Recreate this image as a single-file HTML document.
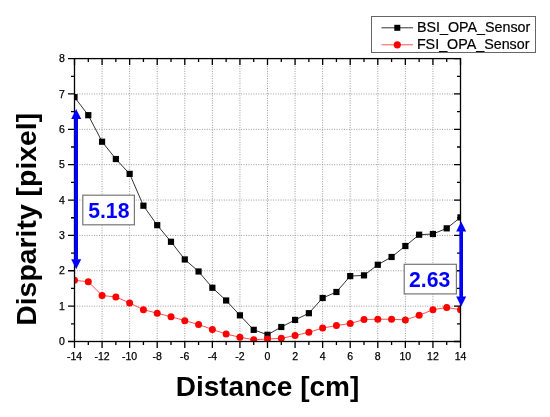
<!DOCTYPE html><html><head><meta charset="utf-8"><title>Disparity vs Distance</title><style>html,body{margin:0;padding:0;background:#fff;width:550px;height:417px;overflow:hidden}svg{display:block}</style></head><body><svg width="550" height="417" viewBox="0 0 550 417"><defs><clipPath id="clip"><rect x="74.5" y="58.6" width="386" height="282.9"/></clipPath></defs><rect width="550" height="417" fill="#fff"/><g stroke="#9a9a9a" stroke-width="1" stroke-dasharray="1 1.45" fill="none"><line x1="102.07" y1="58.6" x2="102.07" y2="341.5"/><line x1="129.64" y1="58.6" x2="129.64" y2="341.5"/><line x1="157.21" y1="58.6" x2="157.21" y2="341.5"/><line x1="184.79" y1="58.6" x2="184.79" y2="341.5"/><line x1="212.36" y1="58.6" x2="212.36" y2="341.5"/><line x1="239.93" y1="58.6" x2="239.93" y2="341.5"/><line x1="267.5" y1="58.6" x2="267.5" y2="341.5"/><line x1="295.07" y1="58.6" x2="295.07" y2="341.5"/><line x1="322.64" y1="58.6" x2="322.64" y2="341.5"/><line x1="350.21" y1="58.6" x2="350.21" y2="341.5"/><line x1="377.79" y1="58.6" x2="377.79" y2="341.5"/><line x1="405.36" y1="58.6" x2="405.36" y2="341.5"/><line x1="432.93" y1="58.6" x2="432.93" y2="341.5"/><line x1="74.5" y1="306.14" x2="460.5" y2="306.14"/><line x1="74.5" y1="270.77" x2="460.5" y2="270.77"/><line x1="74.5" y1="235.41" x2="460.5" y2="235.41"/><line x1="74.5" y1="200.05" x2="460.5" y2="200.05"/><line x1="74.5" y1="164.69" x2="460.5" y2="164.69"/><line x1="74.5" y1="129.33" x2="460.5" y2="129.33"/><line x1="74.5" y1="93.96" x2="460.5" y2="93.96"/></g><g clip-path="url(#clip)"><polyline points="74.5,97.15 88.29,115.18 102.07,141.7 115.86,159.03 129.64,173.88 143.43,205.71 157.21,225.16 171,241.78 184.79,259.46 198.57,271.48 212.36,287.75 226.14,300.48 239.93,315.33 253.71,329.83 267.5,334.78 281.29,327 295.07,319.93 308.86,313.21 322.64,298 336.43,291.99 350.21,276.08 364,275.37 377.79,264.76 391.57,256.98 405.36,246.02 419.14,234.71 432.93,234 446.71,228.34 460.5,217.38" fill="none" stroke="#333" stroke-width="1"/><polyline points="74.5,280.32 88.29,281.74 102.07,295.53 115.86,296.94 129.64,302.95 143.43,309.67 157.21,313.21 171,316.75 184.79,320.64 198.57,324.53 212.36,329.48 226.14,334.07 239.93,337.26 253.71,339.73 267.5,339.02 281.29,338.32 295.07,335.49 308.86,332.31 322.64,328.06 336.43,325.59 350.21,323.47 364,319.58 377.79,319.22 391.57,319.22 405.36,319.93 419.14,315.33 432.93,309.67 446.71,307.55 460.5,309.67" fill="none" stroke="#ff5050" stroke-width="1"/><g fill="#000"><rect x="71.4" y="94.05" width="6.2" height="6.2"/><rect x="85.19" y="112.08" width="6.2" height="6.2"/><rect x="98.97" y="138.6" width="6.2" height="6.2"/><rect x="112.76" y="155.93" width="6.2" height="6.2"/><rect x="126.54" y="170.78" width="6.2" height="6.2"/><rect x="140.33" y="202.61" width="6.2" height="6.2"/><rect x="154.11" y="222.06" width="6.2" height="6.2"/><rect x="167.9" y="238.68" width="6.2" height="6.2"/><rect x="181.69" y="256.36" width="6.2" height="6.2"/><rect x="195.47" y="268.38" width="6.2" height="6.2"/><rect x="209.26" y="284.65" width="6.2" height="6.2"/><rect x="223.04" y="297.38" width="6.2" height="6.2"/><rect x="236.83" y="312.23" width="6.2" height="6.2"/><rect x="250.61" y="326.73" width="6.2" height="6.2"/><rect x="264.4" y="331.68" width="6.2" height="6.2"/><rect x="278.19" y="323.9" width="6.2" height="6.2"/><rect x="291.97" y="316.83" width="6.2" height="6.2"/><rect x="305.76" y="310.11" width="6.2" height="6.2"/><rect x="319.54" y="294.9" width="6.2" height="6.2"/><rect x="333.33" y="288.89" width="6.2" height="6.2"/><rect x="347.11" y="272.98" width="6.2" height="6.2"/><rect x="360.9" y="272.27" width="6.2" height="6.2"/><rect x="374.69" y="261.66" width="6.2" height="6.2"/><rect x="388.47" y="253.88" width="6.2" height="6.2"/><rect x="402.26" y="242.92" width="6.2" height="6.2"/><rect x="416.04" y="231.61" width="6.2" height="6.2"/><rect x="429.83" y="230.9" width="6.2" height="6.2"/><rect x="443.61" y="225.24" width="6.2" height="6.2"/><rect x="457.4" y="214.28" width="6.2" height="6.2"/></g><g fill="#ff0000"><circle cx="74.5" cy="280.32" r="3.5"/><circle cx="88.29" cy="281.74" r="3.5"/><circle cx="102.07" cy="295.53" r="3.5"/><circle cx="115.86" cy="296.94" r="3.5"/><circle cx="129.64" cy="302.95" r="3.5"/><circle cx="143.43" cy="309.67" r="3.5"/><circle cx="157.21" cy="313.21" r="3.5"/><circle cx="171" cy="316.75" r="3.5"/><circle cx="184.79" cy="320.64" r="3.5"/><circle cx="198.57" cy="324.53" r="3.5"/><circle cx="212.36" cy="329.48" r="3.5"/><circle cx="226.14" cy="334.07" r="3.5"/><circle cx="239.93" cy="337.26" r="3.5"/><circle cx="253.71" cy="339.73" r="3.5"/><circle cx="267.5" cy="339.02" r="3.5"/><circle cx="281.29" cy="338.32" r="3.5"/><circle cx="295.07" cy="335.49" r="3.5"/><circle cx="308.86" cy="332.31" r="3.5"/><circle cx="322.64" cy="328.06" r="3.5"/><circle cx="336.43" cy="325.59" r="3.5"/><circle cx="350.21" cy="323.47" r="3.5"/><circle cx="364" cy="319.58" r="3.5"/><circle cx="377.79" cy="319.22" r="3.5"/><circle cx="391.57" cy="319.22" r="3.5"/><circle cx="405.36" cy="319.93" r="3.5"/><circle cx="419.14" cy="315.33" r="3.5"/><circle cx="432.93" cy="309.67" r="3.5"/><circle cx="446.71" cy="307.55" r="3.5"/><circle cx="460.5" cy="309.67" r="3.5"/></g></g><rect x="74.5" y="58.6" width="386" height="282.9" fill="none" stroke="#000" stroke-width="1.3"/><path d="M74.5 341.5v6.5M74.5 58.6v6.5M88.29 341.5v3.5M88.29 58.6v3.5M102.07 341.5v6.5M102.07 58.6v6.5M115.86 341.5v3.5M115.86 58.6v3.5M129.64 341.5v6.5M129.64 58.6v6.5M143.43 341.5v3.5M143.43 58.6v3.5M157.21 341.5v6.5M157.21 58.6v6.5M171 341.5v3.5M171 58.6v3.5M184.79 341.5v6.5M184.79 58.6v6.5M198.57 341.5v3.5M198.57 58.6v3.5M212.36 341.5v6.5M212.36 58.6v6.5M226.14 341.5v3.5M226.14 58.6v3.5M239.93 341.5v6.5M239.93 58.6v6.5M253.71 341.5v3.5M253.71 58.6v3.5M267.5 341.5v6.5M267.5 58.6v6.5M281.29 341.5v3.5M281.29 58.6v3.5M295.07 341.5v6.5M295.07 58.6v6.5M308.86 341.5v3.5M308.86 58.6v3.5M322.64 341.5v6.5M322.64 58.6v6.5M336.43 341.5v3.5M336.43 58.6v3.5M350.21 341.5v6.5M350.21 58.6v6.5M364 341.5v3.5M364 58.6v3.5M377.79 341.5v6.5M377.79 58.6v6.5M391.57 341.5v3.5M391.57 58.6v3.5M405.36 341.5v6.5M405.36 58.6v6.5M419.14 341.5v3.5M419.14 58.6v3.5M432.93 341.5v6.5M432.93 58.6v6.5M446.71 341.5v3.5M446.71 58.6v3.5M460.5 341.5v6.5M460.5 58.6v6.5M74.5 341.5h-6.5M460.5 341.5h-6.5M74.5 323.82h-3.5M460.5 323.82h-3.5M74.5 306.14h-6.5M460.5 306.14h-6.5M74.5 288.46h-3.5M460.5 288.46h-3.5M74.5 270.77h-6.5M460.5 270.77h-6.5M74.5 253.09h-3.5M460.5 253.09h-3.5M74.5 235.41h-6.5M460.5 235.41h-6.5M74.5 217.73h-3.5M460.5 217.73h-3.5M74.5 200.05h-6.5M460.5 200.05h-6.5M74.5 182.37h-3.5M460.5 182.37h-3.5M74.5 164.69h-6.5M460.5 164.69h-6.5M74.5 147.01h-3.5M460.5 147.01h-3.5M74.5 129.33h-6.5M460.5 129.33h-6.5M74.5 111.64h-3.5M460.5 111.64h-3.5M74.5 93.96h-6.5M460.5 93.96h-6.5M74.5 76.28h-3.5M460.5 76.28h-3.5M74.5 58.6h-6.5M460.5 58.6h-6.5" stroke="#000" stroke-width="1.3" fill="none"/><g font-family="Liberation Sans, Arial, sans-serif" font-size="10.5" fill="#000" stroke="#000" stroke-width="0.25"><text x="64.8" y="345.1" text-anchor="end">0</text><text x="64.8" y="309.74" text-anchor="end">1</text><text x="64.8" y="274.38" text-anchor="end">2</text><text x="64.8" y="239.01" text-anchor="end">3</text><text x="64.8" y="203.65" text-anchor="end">4</text><text x="64.8" y="168.29" text-anchor="end">5</text><text x="64.8" y="132.93" text-anchor="end">6</text><text x="64.8" y="97.56" text-anchor="end">7</text><text x="64.8" y="62.2" text-anchor="end">8</text><text x="74.5" y="360.3" text-anchor="middle">-14</text><text x="102.07" y="360.3" text-anchor="middle">-12</text><text x="129.64" y="360.3" text-anchor="middle">-10</text><text x="157.21" y="360.3" text-anchor="middle">-8</text><text x="184.79" y="360.3" text-anchor="middle">-6</text><text x="212.36" y="360.3" text-anchor="middle">-4</text><text x="239.93" y="360.3" text-anchor="middle">-2</text><text x="267.5" y="360.3" text-anchor="middle">0</text><text x="295.07" y="360.3" text-anchor="middle">2</text><text x="322.64" y="360.3" text-anchor="middle">4</text><text x="350.21" y="360.3" text-anchor="middle">6</text><text x="377.79" y="360.3" text-anchor="middle">8</text><text x="405.36" y="360.3" text-anchor="middle">10</text><text x="432.93" y="360.3" text-anchor="middle">12</text><text x="460.5" y="360.3" text-anchor="middle">14</text></g><text x="267.5" y="396" text-anchor="middle" font-family="Liberation Sans, Arial, sans-serif" font-weight="bold" font-size="28" fill="#000">Distance [cm]</text><text transform="translate(36.4 219.3) rotate(-90)" text-anchor="middle" font-family="Liberation Sans, Arial, sans-serif" font-weight="bold" font-size="28.4" fill="#000">Disparity [pixel]</text><rect x="74.4" y="118.5" width="3.6" height="141.2" fill="#0000ff"/><polygon points="76.2,109 81.2,119 71.2,119" fill="#0000ff"/><polygon points="76.2,269.2 81.2,259.2 71.2,259.2" fill="#0000ff"/><rect x="459.4" y="231.1" width="3.6" height="65.9" fill="#0000ff"/><polygon points="461.2,221.6 466.2,231.6 456.2,231.6" fill="#0000ff"/><polygon points="461.2,306.5 466.2,296.5 456.2,296.5" fill="#0000ff"/><rect x="82.8" y="195.2" width="51.6" height="29.6" fill="#fff" stroke="#777" stroke-width="1.2"/><text x="108.8" y="217.8" text-anchor="middle" font-family="Liberation Sans, Arial, sans-serif" font-weight="bold" font-size="21.2" fill="#0000ff">5.18</text><rect x="404.2" y="264.3" width="52.2" height="29.6" fill="#fff" stroke="#777" stroke-width="1.2"/><text x="429.6" y="286.9" text-anchor="middle" font-family="Liberation Sans, Arial, sans-serif" font-weight="bold" font-size="21.2" fill="#0000ff">2.63</text><rect x="371.5" y="16.5" width="164" height="36" fill="#fff" stroke="#666" stroke-width="1"/><line x1="381.5" y1="27.8" x2="413" y2="27.8" stroke="#333" stroke-width="1"/><rect x="394.3" y="24.8" width="6" height="6" fill="#000"/><line x1="381.5" y1="44.8" x2="413" y2="44.8" stroke="#ff5050" stroke-width="1"/><circle cx="397.3" cy="44.8" r="3.6" fill="#ff0000"/><g font-family="Liberation Sans, Arial, sans-serif" font-size="14.3" fill="#000" stroke="#000" stroke-width="0.2"><text x="416.9" y="32.3">BSI_OPA_Sensor</text><text x="416.9" y="48.8">FSI_OPA_Sensor</text></g></svg></body></html>
